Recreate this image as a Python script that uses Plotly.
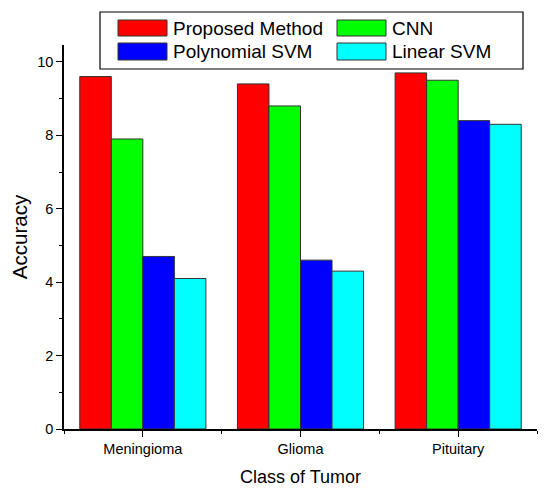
import plotly.graph_objects as go

categories = ['Meningioma', 'Glioma', 'Pituitary']
series_names = ['Proposed Method', 'CNN', 'Polynomial SVM', 'Linear SVM']
proposed = [9.6, 9.4, 9.7]
cnn = [7.9, 8.8, 9.5]
poly_svm = [4.7, 4.6, 8.4]
linear_svm = [4.1, 4.3, 8.3]
colours = ['#ff0000', '#00ff00', '#0000ff', '#00ffff']

series = [proposed, cnn, poly_svm, linear_svm]
xpos = list(range(len(categories)))

fig = go.Figure()
for name, vals, col in zip(series_names, series, colours):
    fig.add_trace(go.Bar(
        x=xpos, y=vals, name=name,
        marker=dict(color=col, line=dict(color='#333333', width=1)),
        showlegend=False
    ))

# the page body has an 8px margin, so the figure is drawn 8px in and down
OFF = 8
W, H = 550 - OFF, 491 - OFF
# plot area in window pixels
L, R, T, B = 64, 537, 45, 429
def px(x):
    return (x - L) / (R - L)
def py(y):
    return (B - y) / (B - T)

shapes = [dict(type='rect', xref='paper', yref='paper',
               x0=px(100), x1=px(523), y0=py(69), y1=py(12),
               line=dict(color='black', width=1.2), fillcolor='white')]
annotations = []
cols = [118, 337]
rows = [(20, 36), (43, 60)]
for i, (name, col) in enumerate(zip(series_names, colours)):
    cx = cols[i % 2]
    r0, r1 = rows[i // 2]
    shapes.append(dict(type='rect', xref='paper', yref='paper',
                       x0=px(cx), x1=px(cx + 49), y0=py(r1), y1=py(r0),
                       line=dict(color='#333333', width=1), fillcolor=col))
    annotations.append(dict(text=name, xref='paper', yref='paper',
                            x=px(cx + 53), y=py((r0 + r1) / 2),
                            xanchor='left', yanchor='middle', showarrow=False,
                            font=dict(size=19, color='black')))

fig.update_layout(
    width=W, height=H,
    margin=dict(l=L - OFF, r=550 - R, t=T - OFF, b=491 - B),
    paper_bgcolor='white', plot_bgcolor='white',
    font=dict(family='Liberation Sans, Arial, sans-serif', color='black', size=14),
    barmode='group', bargap=0.2, bargroupgap=0,
    shapes=shapes, annotations=annotations,
    xaxis=dict(
        range=[-0.5, 2.5], tickmode='array', tickvals=xpos, ticktext=categories,
        ticks='outside', ticklen=6, tickwidth=1.2, tickcolor='black',
        showline=True, linecolor='black', linewidth=1.5,
        showgrid=False, zeroline=False, automargin=False,
        minor=dict(tickmode='array', tickvals=[-0.5, 0.5, 1.5, 2.5],
                   ticks='outside', ticklen=3, tickcolor='black', tickwidth=1.2),
        title=dict(text='Class of Tumor', font=dict(size=18), standoff=14),
        tickfont=dict(size=14.5),
    ),
    yaxis=dict(
        range=[0, 10.46], tick0=0, dtick=2,
        ticks='outside', ticklen=6, tickwidth=1.2, tickcolor='black',
        showline=True, linecolor='black', linewidth=1.5,
        showgrid=False, zeroline=False, automargin=False,
        minor=dict(dtick=1, ticks='outside', ticklen=3, tickcolor='black', tickwidth=1.2),
        title=dict(text='Accuracy', font=dict(size=20.5), standoff=8),
        tickfont=dict(size=14.5),
    ),
)

fig.write_html("out.html")
